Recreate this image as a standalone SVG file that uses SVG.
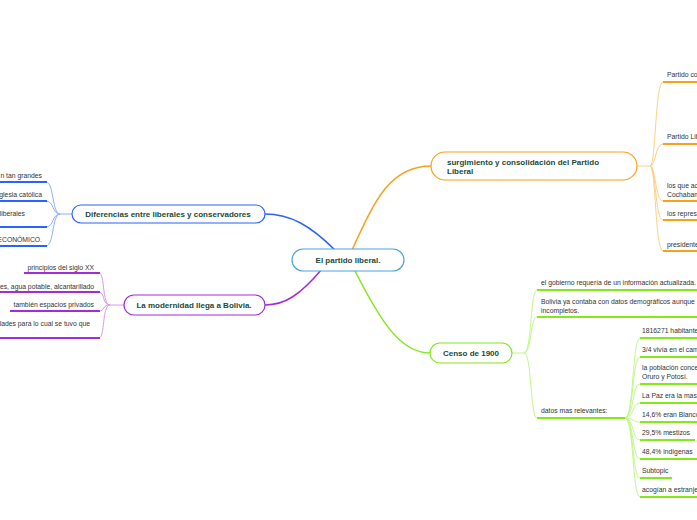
<svg xmlns="http://www.w3.org/2000/svg" width="697" height="520" viewBox="0 0 697 520">
<style>
text{font-family:"Liberation Sans",Arial,sans-serif;fill:#333}
.n{font-weight:bold;font-size:8px;fill:#1a4a3a}
.l{font-size:6.8px}
.c{fill:none}
.o{stroke:#f7a21b}.ol{stroke:#fcd08a}
.b{stroke:#2962ff}.bl{stroke:#8fb0ff}
.p{stroke:#a12cd9}.pl{stroke:#d49af0}
.g{stroke:#84e81a}.gl{stroke:#c4f58d}
.u{stroke-width:2}
</style>
<rect width="697" height="520" fill="#fff"/>
<g id="connectors" class="c">
<path class="o" stroke-width="1.5" d="M352 250 C375 200,390 166,431 166"/>
<path class="b" stroke-width="1.5" d="M336 251 C310 225,290 214,265 214"/>
<path class="p" stroke-width="1.5" d="M322 269 C300 295,285 305,265 305"/>
<path class="g" stroke-width="1.5" d="M355 271 C380 320,400 353,430 353"/>
<g class="ol"><path d="M637 166 L650 166"/>
<path d="M650 166 C656 166,655 82,663 82"/><path d="M650 166 C656 166,655 144,663 144"/><path d="M650 166 C656 166,655 201,663 201"/><path d="M650 166 C656 166,655 220,663 220"/><path d="M650 166 C656 166,655 251,663 251"/></g>
<g class="o u"><path d="M663 82H697M663 144H697M663 201H697M663 220H697M663 251H697"/></g>
<g class="bl"><path d="M72 214 L60 214"/>
<path d="M60 214 C52 214,54 182,46 182"/><path d="M60 214 C52 214,54 201,46 201"/><path d="M60 214 C52 214,54 227,46 227"/><path d="M60 214 C52 214,54 246,46 246"/></g>
<g class="b u"><path d="M0 182H47M0 201H47M0 227H47M0 246H47"/></g>
<g class="pl"><path d="M124 305 L110 305"/>
<path d="M110 305 C102 305,105 273,99 273"/><path d="M110 305 C102 305,105 292,99 292"/><path d="M110 305 C102 305,105 311,99 311"/><path d="M110 305 C102 305,105 338,99 338"/></g>
<g class="p u"><path d="M24 273H100M0 292H100M10 311H100M0 338H100"/></g>
<g class="gl"><path d="M512 353 L524 353"/>
<path d="M524 353 C532 353,530 290,537 290"/><path d="M524 353 C532 353,530 317,537 317"/><path d="M524 353 C532 353,530 418,537 418"/>
<path d="M625 418 C634 418,632 338,640 338"/><path d="M625 418 C634 418,632 357,640 357"/><path d="M625 418 C634 418,632 384,640 384"/><path d="M625 418 C634 418,632 403,640 403"/><path d="M625 418 C634 418,632 422,640 422"/><path d="M625 418 C634 418,632 440,640 440"/><path d="M625 418 C634 418,632 459,640 459"/><path d="M625 418 C634 418,632 478,640 478"/><path d="M625 418 C634 418,632 497,640 497"/></g>
<g class="g u"><path d="M537 290H697M537 317H697M537 418H625M640 338H697M640 357H697M640 384H697M640 403H697M640 422H697M640 440H695M640 459H697M640 478H672M640 497H697"/></g>
</g>
<g id="center"><rect x="292" y="249" width="112" height="22" rx="11" fill="#fff" stroke="#4aa3df" stroke-width="1.2"/><text class="n" x="348" y="263" text-anchor="middle" font-size="9">El partido liberal.</text></g>
<g id="surgimiento"><rect x="431" y="152" width="206" height="28" rx="14" fill="#fff" stroke="#f7a21b" stroke-width="1.2"/><text class="n" x="447" y="165">surgimiento y consolidación del Partido</text><text class="n" x="447" y="174">Liberal</text></g>
<g id="diferencias"><rect x="72" y="205" width="193" height="18" rx="9" fill="#fff" stroke="#2962ff" stroke-width="1.2"/><text class="n" x="168" y="217" text-anchor="middle">Diferencias entre liberales y conservadores</text></g>
<g id="modernidad"><rect x="124" y="295" width="141" height="20" rx="10" fill="#fff" stroke="#a12cd9" stroke-width="1.2"/><text class="n" x="194" y="308" text-anchor="middle">La modernidad llega a Bolivia.</text></g>
<g id="censo"><rect x="430" y="343" width="82" height="20" rx="10" fill="#fff" stroke="#84e81a" stroke-width="1.2"/><text class="n" x="471" y="356" text-anchor="middle">Censo de 1900</text></g>
<g id="leaves" class="l">
<text class="l" x="667" y="77">Partido co</text>
<text class="l" x="667" y="139">Partido Lib</text>
<text class="l" x="667" y="188">los que ac</text><text class="l" x="667" y="197">Cochabam</text>
<text class="l" x="667" y="216">los repres</text>
<text class="l" x="667" y="247">presidente</text>
<text class="l" x="42" y="178" text-anchor="end">n tan grandes</text>
<text class="l" x="42" y="197" text-anchor="end">iglesia católica</text>
<text class="l" x="25" y="216" text-anchor="end">liberales</text>
<text class="l" x="42" y="242" text-anchor="end">ECONÓMICO.</text>
<text class="l" x="94" y="270" text-anchor="end">principios del siglo XX</text>
<text class="l" x="94" y="289" text-anchor="end">es, agua potable, alcantarillado</text>
<text class="l" x="94" y="307" text-anchor="end">también espacios privados</text>
<text class="l" x="90" y="326" text-anchor="end">lades para lo cual se tuvo que</text>
<text class="l" x="541" y="285">el gobierno requería de un información actualizada.</text>
<text class="l" x="541" y="304">Bolivia ya contaba con datos demográficos aunque</text><text class="l" x="541" y="313">incompletos.</text>
<text class="l" x="541" y="413">datos mas relevantes:</text>
<text class="l" x="642" y="333">1816271 habitantes</text>
<text class="l" x="642" y="352">3/4 vivía en el cam</text>
<text class="l" x="642" y="370">la población conce</text><text class="l" x="642" y="379">Oruro y Potosí.</text>
<text class="l" x="642" y="398">La Paz era la mas</text>
<text class="l" x="642" y="417">14,6% eran Blanco</text>
<text class="l" x="642" y="435">29,5% mestizos</text>
<text class="l" x="642" y="454">48,4% indígenas</text>
<text class="l" x="642" y="473">Subtopic</text>
<text class="l" x="642" y="492">acogían a estranje</text>
</g>
</svg>
